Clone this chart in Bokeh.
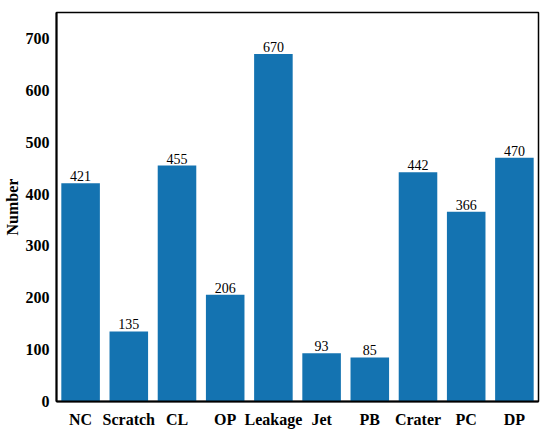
from bokeh.plotting import figure
from bokeh.models import ColumnDataSource, FixedTicker, Range1d, FactorRange
from bokeh.embed import file_html
from bokeh.resources import INLINE
from bokeh.core.properties import value

categories = ["NC", "Scratch", "CL", "OP", "Leakage", "Jet", "PB", "Crater", "PC", "DP"]
counts = [421, 135, 455, 206, 670, 93, 85, 442, 366, 470]
y_ticks = [0, 100, 200, 300, 400, 500, 600, 700]

src = ColumnDataSource(dict(cat=categories, n=counts, lab=[str(c) for c in counts]))

p = figure(frame_width=482, frame_height=389, x_range=FactorRange(*categories, range_padding=0),
           y_range=Range1d(0, 750), output_backend="svg", toolbar_location=None,
           min_border_left=50, min_border_right=2, min_border_top=12, min_border_bottom=10)

p.vbar(x="cat", top="n", width=0.8, bottom=0, source=src, color="#1473b1", line_color=None)
p.text(x="cat", y="n", text="lab", source=src, text_align="center", text_baseline="bottom",
       y_offset=-2, text_font=value("Liberation Serif"), text_font_size="14px", text_color="black")

p.xgrid.visible = False
p.ygrid.visible = False
p.outline_line_color = "black"
p.outline_line_width = 1.5

for ax in (p.xaxis, p.yaxis):
    ax.major_label_text_font = "Liberation Serif"
    ax.major_label_text_font_style = "bold"
    ax.major_label_text_font_size = "16px"
    ax.major_label_text_color = "black"
    ax.major_tick_line_color = None
    ax.minor_tick_line_color = None
    ax.major_tick_out = 0
    ax.major_tick_in = 0
    ax.minor_tick_out = 0
    ax.minor_tick_in = 0
    ax.axis_line_color = "black"
    ax.axis_line_width = 2

p.yaxis.ticker = FixedTicker(ticks=y_ticks)
p.yaxis.major_label_standoff = 7
p.xaxis.major_label_standoff = 9
p.yaxis.axis_label = "Number"
p.yaxis.axis_label_text_font = "Liberation Serif"
p.yaxis.axis_label_text_font_style = "bold"
p.yaxis.axis_label_text_font_size = "16px"
p.yaxis.axis_label_text_color = "black"
p.yaxis.axis_label_standoff = 2

open("out.html", "w").write(file_html(p, INLINE))
